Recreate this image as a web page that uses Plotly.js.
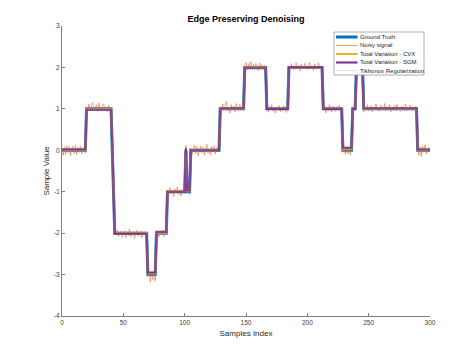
<!DOCTYPE html>
<html>
<head>
<meta charset="utf-8">
<script src="https://cdn.plot.ly/plotly-3.0.1.min.js"></script>
<style>
  html, body { margin: 0; padding: 0; background: #fff; }
  #chart { width: 474px; height: 355px; }
</style>
</head>
<body>
<div id="chart"></div>
<script>
// Piecewise-constant test signal: each segment starts at segStart and holds its level
const segStart   = [0, 20, 41, 42, 43, 70, 77, 86, 101, 102, 105, 129, 149, 167, 185, 213, 229, 237, 240, 246, 290];
const gtLevels   = [0, 1, 0, -1, -2, -3, -2, -1, 0, -1, 0, 1, 2, 1, 2, 1, 0, 1, 2, 1, 0];
const cvxLevels  = [0.01, 0.99, 0.05, -0.97, -1.99, -2.97, -1.99, -0.99, 0.03, -0.98, 0.01, 1.0, 1.99, 1.0, 1.99, 1.0, 0.04, 1.0, 1.97, 1.0, 0.01];
const sgmLevels  = [0.02, 0.98, 0.1, -0.95, -2.01, -2.95, -1.97, -1.0, 0.05, -0.97, 0.0, 1.01, 1.98, 1.0, 2.0, 1.0, 0.06, 1.0, 1.95, 1.01, 0.02];
const tikLevels  = [0.0, 0.99, 0.2, -0.9, -1.98, -2.92, -1.97, -1.0, -0.1, -0.95, 0.0, 1.0, 1.97, 1.02, 1.98, 1.01, 0.08, 1.03, 1.9, 1.0, 0.03];

// Noisy observation, one value per sample index 0..300
const noisy = [
  0.05,-0.12,0.08,-0.1,0.11,-0.06,0.09,-0.13,0.04,0.1,-0.08,0.12,-0.11,0.07,-0.05,0.1,-0.09,0.06,0.02,-0.07,
  1.04,0.95,1.12,0.98,1.08,1.15,0.97,1.03,1.1,0.94,1.14,1.02,0.96,1.09,1.12,0.99,1.05,0.93,1.08,1.02,0.97,
  0.08,
  -0.95,
  -1.97,-2.05,-1.92,-2.08,-2.02,-1.95,-2.1,-2.03,-1.94,-2.12,-1.98,-2.06,-1.9,-2.09,-2.01,-1.96,-2.13,-2.04,-1.93,-2.07,-2.0,-1.95,-2.11,-2.03,-1.97,-2.06,-1.99,
  -3.05,-2.95,-3.18,-2.98,-3.12,-2.93,-3.15,
  -2.04,-1.96,-2.1,-1.97,-2.05,-1.93,-2.08,-2.01,-1.95,
  -0.96,-1.08,-0.9,-1.05,-0.97,-1.12,-0.93,-1.02,-0.88,-1.07,-0.95,-1.1,-0.98,-0.91,-1.04,
  0.12,
  -1.03,-0.95,-1.06,
  0.06,-0.1,0.04,0.12,-0.08,0.09,-0.13,0.02,0.1,-0.06,0.08,-0.11,0.05,0.14,-0.07,0.03,-0.12,0.09,-0.04,0.11,-0.09,0.06,-0.02,0.08,
  1.05,0.94,1.12,0.97,1.09,1.18,0.95,1.04,0.9,1.1,0.98,1.07,0.93,1.13,1.01,0.96,1.11,0.99,1.06,1.14,
  2.06,2.12,1.95,2.09,2.02,2.14,1.96,2.08,1.98,2.1,2.04,1.93,2.11,2.0,2.07,1.97,2.05,2.02,
  1.03,0.92,1.06,0.97,1.1,0.94,1.02,0.9,1.05,0.98,1.08,0.93,1.01,0.95,1.07,0.99,0.91,1.04,
  2.04,1.97,2.09,2.01,1.94,2.07,2.11,1.98,2.05,1.92,2.08,2.02,1.96,2.1,2.03,1.95,2.06,2.12,1.99,2.04,1.93,2.08,2.01,1.97,2.11,2.05,1.96,2.03,
  0.97,1.06,0.9,1.04,0.95,1.1,0.99,0.92,1.07,1.0,0.94,1.05,0.98,1.09,0.96,1.03,
  -0.05,0.04,-0.1,0.02,-0.08,0.06,-0.12,0.03,
  1.05,0.96,1.08,
  2.03,1.96,2.07,1.98,2.05,2.01,
  0.92,1.04,0.97,1.1,0.95,1.02,1.08,0.93,1.05,0.99,1.12,0.96,1.03,0.94,1.09,1.01,0.97,1.13,0.95,1.06,0.98,1.1,0.93,1.04,1.0,1.08,0.96,1.11,0.99,1.03,0.94,1.07,1.02,0.97,1.12,0.95,1.05,1.0,1.09,0.96,1.04,0.98,1.06,1.01,
  0.04,-0.12,0.08,-0.15,0.1,-0.05,0.13,-0.09,0.02,0.07,-0.03
];

const seriesNames = ['Ground Truth', 'Noisy signal', 'Total Variation - CVX', 'Total Variation - SGM', 'Tikhonov Regularization'];
const xTicks = [0, 50, 100, 150, 200, 250, 300];
const yTicks = [-4, -3, -2, -1, 0, 1, 2, 3];

const N = noisy.length;
const idx = Array.from({length: N}, (_, i) => i);

// expand segment levels to one value per sample
function expand(levels) {
  const out = [];
  for (let i = 0; i < N; i++) {
    let k = 0;
    while (k + 1 < segStart.length && segStart[k + 1] <= i) k++;
    out.push(levels[k]);
  }
  return out;
}

const styles = [
  {color: '#0072BD', width: 3},
  {color: 'rgba(224,110,40,0.75)', width: 0.8},
  {color: '#EDB120', width: 2},
  {color: '#7E2F8E', width: 2.1},
  {color: 'rgba(170,170,170,0.45)', width: 0.6}
];
const ySeries = [expand(gtLevels), noisy, expand(cvxLevels), expand(sgmLevels), expand(tikLevels)];

const traces = ySeries.map((y, k) => ({
  x: idx, y: y, type: 'scatter', mode: 'lines', name: seriesNames[k],
  line: {color: styles[k].color, width: styles[k].width}, showlegend: false, hoverinfo: 'skip'
}));

// legend box drawn in paper coordinates
const L = 62, R = 44, T = 26, B = 39, W = 474, H = 355;
const pw = W - L - R, ph = H - T - B;
const px = v => (v - L) / pw;
const py = v => (H - B - v) / ph;

const shapes = [{
  type: 'rect', xref: 'paper', yref: 'paper',
  x0: px(334), x1: px(424), y0: py(75), y1: py(32),
  line: {color: '#9a9a9a', width: 0.8}, fillcolor: '#ffffff'
}];
const annotations = [];
const rowY = [37, 45.5, 54, 62.5, 70.5];
seriesNames.forEach((name, k) => {
  shapes.push({
    type: 'line', xref: 'paper', yref: 'paper',
    x0: px(336), x1: px(357.5), y0: py(rowY[k]), y1: py(rowY[k]),
    line: {color: styles[k].color, width: k === 1 ? 0.9 : (k === 4 ? 0.8 : styles[k].width)}
  });
  annotations.push({
    xref: 'paper', yref: 'paper', x: px(358), y: py(rowY[k]),
    xanchor: 'left', yanchor: 'middle', showarrow: false, text: name,
    font: {family: 'Liberation Sans, Arial, sans-serif', size: 6, color: '#262626'}
  });
});

const layout = {
  width: W, height: H,
  margin: {l: L, r: R, t: T, b: B, pad: 0},
  paper_bgcolor: '#ffffff', plot_bgcolor: '#ffffff',
  font: {family: 'Liberation Sans, Arial, sans-serif', color: '#262626'},
  title: {
    text: '<b>Edge Preserving Denoising</b>',
    font: {size: 9, color: '#000000'},
    x: (L + pw / 2) / W, xanchor: 'center', y: 1 - 19 / H, yanchor: 'middle'
  },
  xaxis: {
    range: [0, 300], tickvals: xTicks, ticktext: xTicks.map(String),
    ticks: 'inside', ticklen: 3, tickcolor: '#7f7f7f',
    showline: true, linecolor: '#7f7f7f', linewidth: 1, mirror: false,
    showgrid: false, zeroline: false,
    tickfont: {size: 6.5, color: '#404040'},
    title: {text: 'Samples Index', font: {size: 8, color: '#262626'}, standoff: 5}
  },
  yaxis: {
    range: [-4, 3], tickvals: yTicks, ticktext: yTicks.map(String),
    ticks: 'inside', ticklen: 3, tickcolor: '#7f7f7f',
    showline: true, linecolor: '#7f7f7f', linewidth: 1, mirror: false,
    showgrid: false, zeroline: false,
    tickfont: {size: 6.5, color: '#404040'},
    title: {text: 'Sample Value', font: {size: 8, color: '#262626'}, standoff: 3}
  },
  showlegend: false,
  shapes: shapes,
  annotations: annotations
};

Plotly.newPlot('chart', traces, layout, {displayModeBar: false, staticPlot: true});
</script>
</body>
</html>
